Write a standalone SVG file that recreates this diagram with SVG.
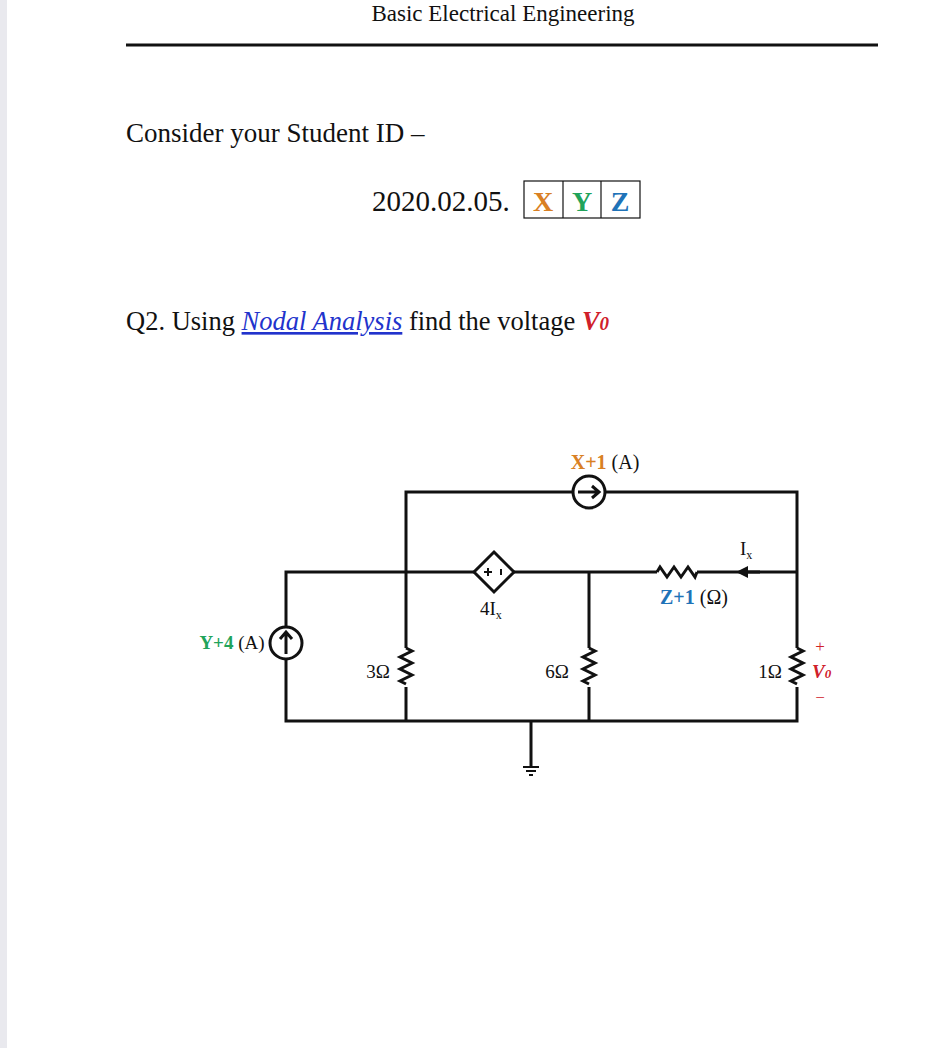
<svg xmlns="http://www.w3.org/2000/svg" width="951" height="1048" viewBox="0 0 951 1048">
<style>
text{font-family:"Liberation Serif","Times New Roman",serif;fill:#111}
.w{stroke:#111;stroke-width:3;fill:none}
.b{font-weight:bold}
</style>
<defs>
<marker id="ah" viewBox="0 0 10 10" refX="5" refY="5" markerWidth="4" markerHeight="4" orient="auto"><path d="M0,0L10,5L0,10z" fill="#111"/></marker>
</defs>
<rect width="951" height="1048" fill="#fff"/>
<rect x="0" y="0" width="7" height="1048" fill="#e9e9ee"/>
<g id="header">
<text x="503" y="21" font-size="23" text-anchor="middle">Basic Electrical Engineering</text>
<line x1="126" y1="45" x2="878" y2="45" stroke="#111" stroke-width="3"/>
<text x="126" y="142" font-size="27">Consider your Student ID –</text>
<text x="372" y="211" font-size="29">2020.02.05.</text>
<rect x="524" y="181" width="116" height="37" fill="none" stroke="#111" stroke-width="1.2"/>
<line x1="563" y1="181" x2="563" y2="218" stroke="#111" stroke-width="1.2"/>
<line x1="601" y1="181" x2="601" y2="218" stroke="#111" stroke-width="1.2"/>
<text x="543" y="211" font-size="28" class="b" text-anchor="middle" style="fill:#d98024">X</text>
<text x="582" y="211" font-size="28" class="b" text-anchor="middle" style="fill:#21a35a">Y</text>
<text x="620" y="211" font-size="28" class="b" text-anchor="middle" style="fill:#1f73b8">Z</text>
<text x="126" y="330" font-size="26.5">Q2. Using <tspan style="fill:#2233cc" text-decoration="underline" font-style="italic">Nodal Analysis</tspan> find the voltage <tspan class="b" font-style="italic" style="fill:#d0202a">V</tspan><tspan class="b" font-style="italic" font-size="19" style="fill:#d0202a">0</tspan></text>
</g>
<g id="connectors">
<path class="w" d="M406,721V687M406,648V572M406,572V492H573M605,492H797V572M797,572V648M797,687V721H286V659M286,627V572H474M514,572H657M697,572H797M589,572V648M589,687V721M531,721V767"/>
<line x1="760" y1="572" x2="742" y2="572" stroke="#111" stroke-width="3" marker-end="url(#ah)"/>
</g>
<g id="gnd"><path d="M523,767h16M526,771h10M529,775h4" stroke="#111" stroke-width="2"/></g>
<g id="isrc_y"><circle class="w" cx="286" cy="643" r="16"/><path d="M286,654V634M280,639L286,632L292,639" class="w" stroke-width="2.2"/></g>
<g id="isrc_x"><circle class="w" cx="589" cy="492" r="16"/><path d="M578,492H598M592,486L599,492L592,498" class="w" stroke-width="2.2"/></g>
<g id="dep"><path class="w" d="M494,552L514,572L494,592L474,572Z"/><path d="M484,572h8M488,568v8M501,569v6" stroke="#111" stroke-width="2"/></g>
<g id="r3"><path class="w" d="M406,648l6,3l-12,6l12,6l-12,6l12,6l-12,6l6,3" stroke-width="2.5"/></g>
<g id="r6"><path class="w" d="M589,648l6,3l-12,6l12,6l-12,6l12,6l-12,6l6,3" stroke-width="2.5"/></g>
<g id="r1"><path class="w" d="M797,648l6,3l-12,6l12,6l-12,6l12,6l-12,6l6,3" stroke-width="2.5"/></g>
<g id="rz"><path class="w" d="M657,572l3,-5l7,10l7,-10l7,10l7,-10l7,10l2,-5" stroke-width="2.5"/></g>
<g id="labels">
<text x="605" y="469" font-size="20" text-anchor="middle"><tspan class="b" style="fill:#d98024">X+1</tspan> (A)</text>
<text x="740" y="555" font-size="19">I<tspan font-size="12" dy="4">x</tspan></text>
<text x="694" y="604" font-size="20" text-anchor="middle"><tspan class="b" style="fill:#1f73b8">Z+1</tspan> (Ω)</text>
<text x="480" y="615" font-size="19">4I<tspan font-size="12" dy="4">x</tspan></text>
<text x="232" y="649" font-size="19" text-anchor="middle"><tspan class="b" style="fill:#21a35a">Y+4</tspan> (A)</text>
<text x="378" y="678" font-size="19" text-anchor="middle">3Ω</text>
<text x="557" y="678" font-size="19" text-anchor="middle">6Ω</text>
<text x="770" y="678" font-size="19" text-anchor="middle">1Ω</text>
<text x="820" y="652" font-size="17" text-anchor="middle" style="fill:#d0202a">+</text>
<text x="812" y="678" font-size="19" class="b" font-style="italic" style="fill:#d0202a">V<tspan font-size="13">0</tspan></text>
<text x="820" y="703" font-size="17" text-anchor="middle" style="fill:#d0202a">−</text>
</g>
</svg>
